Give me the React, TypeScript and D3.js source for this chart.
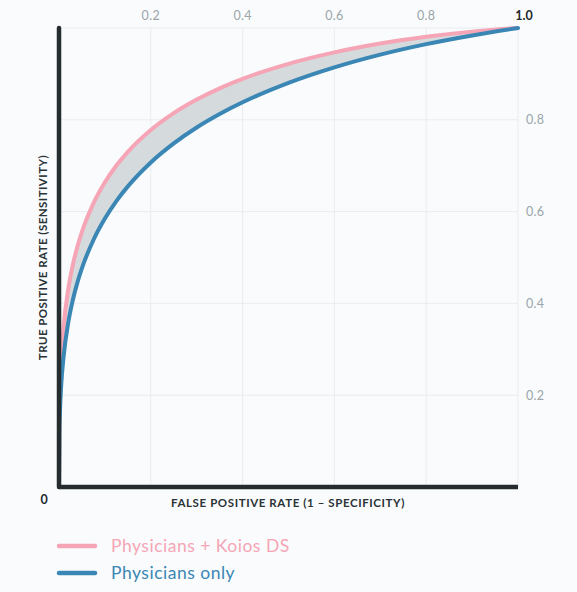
import * as d3 from "d3"

// ROC curves sampled on a shared false-positive-rate grid
const fpr = [0, 0.001, 0.002, 0.005, 0.01, 0.02, 0.03, 0.04, 0.05, 0.075, 0.1, 0.125, 0.15, 0.2, 0.25, 0.3, 0.35, 0.4, 0.5, 0.6, 0.7, 0.8, 0.9, 1.0]
const withKoios = [0, 0.163, 0.207, 0.28, 0.3488, 0.4299, 0.4831, 0.5234, 0.556, 0.6181, 0.6639, 0.7003, 0.7303, 0.7779, 0.8146, 0.8441, 0.8686, 0.8892, 0.922, 0.9469, 0.9661, 0.9809, 0.9921, 1.0]
const physiciansOnly = [0, 0.1264, 0.1624, 0.2244, 0.2843, 0.3574, 0.4069, 0.4452, 0.4768, 0.5382, 0.5849, 0.6229, 0.6549, 0.7071, 0.7487, 0.7833, 0.8126, 0.8381, 0.8804, 0.9142, 0.9419, 0.9648, 0.9838, 1.0]

const xTicks = [0.2, 0.4, 0.6, 0.8]
const yTicks = [0.2, 0.4, 0.6, 0.8]

const seriesNames = ["Physicians + Koios DS", "Physicians only"]
const seriesColors = ["#f5a5b6", "#3a86b4"]

const width = 577
const height = 592
const font = "Lato, 'Open Sans', sans-serif"

export default function App() {
  const x = d3.scaleLinear().domain([0, 1]).range([59, 518])
  const y = d3.scaleLinear().domain([0, 1]).range([487, 28])

  const line = d3
    .line<number>()
    .x((_, i) => x(fpr[i]))
    .y((d) => y(d))
    .curve(d3.curveMonotoneX)

  const band = d3
    .area<number>()
    .x((_, i) => x(fpr[i]))
    .y0((_, i) => y(physiciansOnly[i]))
    .y1((d) => y(d))
    .curve(d3.curveMonotoneX)

  return (
    <svg width={width} height={height} style={{ position: "absolute", left: 0, top: 0 }} fontFamily={font}>
      <rect width={width} height={height} fill="#f9fbfc" />

      {/* grid */}
      {[...xTicks, 1].map((t) => (
        <line key={"gx" + t} x1={x(t)} x2={x(t)} y1={y(1)} y2={y(0)} stroke="#e9edf0" strokeWidth={1} />
      ))}
      {[...yTicks, 1].map((t) => (
        <line key={"gy" + t} x1={x(0)} x2={x(1)} y1={y(t)} y2={y(t)} stroke="#e9edf0" strokeWidth={1} />
      ))}

      {/* band between the two curves */}
      <path d={band(withKoios) ?? ""} fill="#d5dadd" />
      <path d={line(withKoios) ?? ""} fill="none" stroke={seriesColors[0]} strokeWidth={4} />
      <path d={line(physiciansOnly) ?? ""} fill="none" stroke={seriesColors[1]} strokeWidth={4} strokeLinecap="round" />

      {/* axes */}
      <line x1={x(0)} x2={x(0)} y1={y(1)} y2={y(0)} stroke="#242c2f" strokeWidth={4.5} strokeLinecap="round" />
      <line x1={x(0)} x2={x(1)} y1={y(0)} y2={y(0)} stroke="#242c2f" strokeWidth={4.5} />

      {/* tick labels */}
      {xTicks.map((t) => (
        <text key={"tx" + t} x={x(t)} y={20} textAnchor="middle" fontSize={12.5} fill="#9ba5aa" letterSpacing={0.3}>
          {t.toFixed(1)}
        </text>
      ))}
      <text x={x(1) + 6} y={20} textAnchor="middle" fontSize={12.5} fontWeight={700} fill="#222a2d">
        1.0
      </text>
      {yTicks.map((t) => (
        <text key={"ty" + t} x={x(1) + 8} y={y(t) + 4.5} fontSize={12.5} fill="#9ba5aa" letterSpacing={0.3}>
          {t.toFixed(1)}
        </text>
      ))}
      <text x={44} y={504} textAnchor="middle" fontSize={12.5} fontWeight={700} fill="#222a2d">
        0
      </text>

      {/* axis titles */}
      <text x={288} y={507} textAnchor="middle" fontSize={11.5} fontWeight={700} fill="#2b3337" letterSpacing={0.6}>
        FALSE POSITIVE RATE (1 – SPECIFICITY)
      </text>
      <text
        transform={`translate(47,${(y(0) + y(1)) / 2}) rotate(-90)`}
        textAnchor="middle"
        fontSize={11.5}
        fontWeight={700}
        fill="#2b3337"
        letterSpacing={0.45}
      >
        TRUE POSITIVE RATE (SENSITIVITY)
      </text>

      {/* legend */}
      {seriesNames.map((name, i) => (
        <g key={name} transform={`translate(0,${546 + i * 27})`}>
          <line x1={59} x2={95} y1={0} y2={0} stroke={seriesColors[i]} strokeWidth={4.5} strokeLinecap="round" />
          <text x={111} y={6} fontSize={17.5} fill={seriesColors[i]} letterSpacing={0.5}>
            {name}
          </text>
        </g>
      ))}
    </svg>
  )
}
